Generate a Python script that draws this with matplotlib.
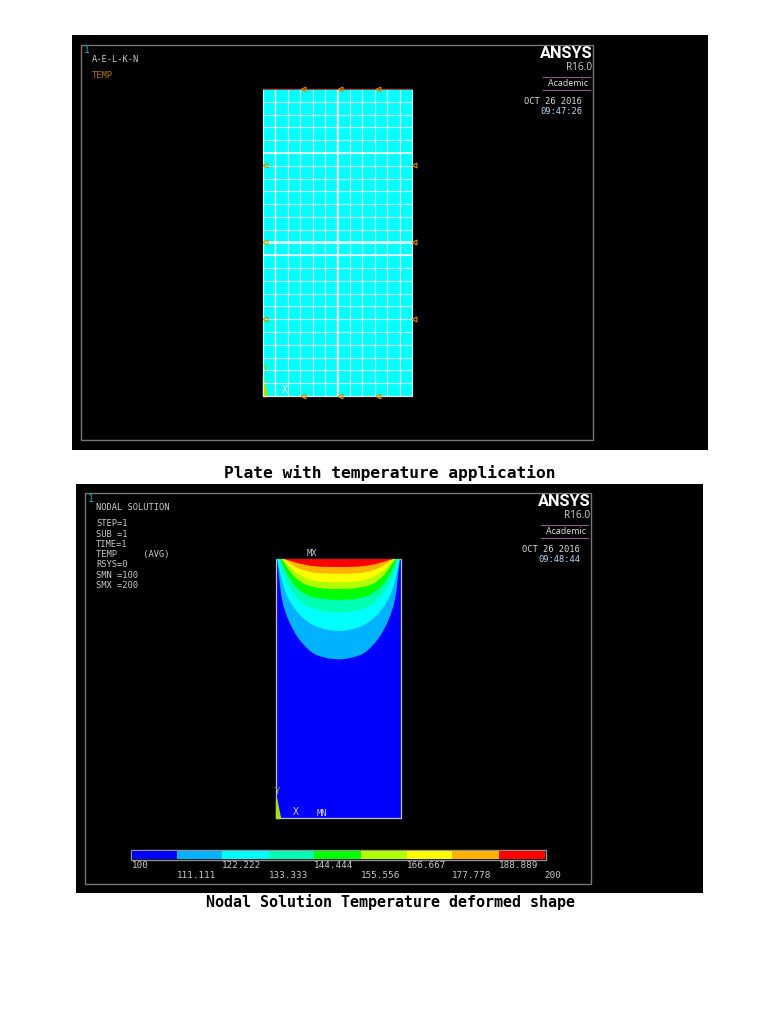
import numpy as np
import matplotlib
matplotlib.use('Agg')
import matplotlib.pyplot as plt
from matplotlib.patches import Rectangle, PathPatch
from matplotlib.path import Path

# colour bands, low to high
band_colors = ['#0000ff', '#00b2ff', '#00ffff', '#00ffb2', '#00ff00',
               '#b2ff00', '#ffff00', '#ffb200', '#ff0000']
bar_edges = [131.5, 176.7, 221.7, 269, 314.3, 360.7, 406.7, 452.3, 499, 544.5]
low_labels = ['100', '122.222', '144.444', '166.667', '188.889']
high_labels = ['111.111', '133.333', '155.556', '177.778', '200']

# contour edges, half width from plate centre vs depth below the top edge (px)
edge_offsets = [
    [62, 60.7, 56.7, 50, 40, 26.7, 13, 0],
    [61, 58.3, 51.7, 40, 23.3, 0],
    [59, 56.7, 48.3, 36.7, 23.3, 0],
    [58, 55, 46.7, 36.7, 23.3, 0],
    [57, 54, 45, 33.3, 16.7, 0],
    [56, 53.3, 43.3, 30, 16.7, 0],
    [55, 53.3, 40, 23.3, 0],
    [55, 51.7, 40, 23.3, 0],
]
edge_depths = [
    [0, 6, 39.3, 61, 79.3, 93.3, 98.7, 100.3],
    [0, 14.3, 36, 54.3, 67, 72],
    [0, 11, 29.3, 43.3, 50.3, 53.7],
    [0, 7.7, 22.7, 32.7, 38.7, 41],
    [0, 4.3, 16.7, 25.3, 29.3, 30],
    [0, 2.7, 12.7, 20, 22.7, 23.3],
    [0, 1, 9.3, 13.7, 14.7],
    [0, 0.7, 4.3, 7.3, 8],
]

arrow_x = [303, 340, 378]
arrow_y = [165, 242, 319]
bright_rows = [153, 242, 255]
bright_cols = [275, 337]

fig = plt.figure(figsize=(7.68, 10.24), dpi=100, facecolor='white')
ax = fig.add_axes([0, 0, 1, 1])
ax.set_xlim(0, 768)
ax.set_ylim(1024, 0)
ax.axis('off')
mono = 'DejaVu Sans Mono'


def box(x0, y0, x1, y1, **kw):
    ax.add_patch(Rectangle((x0, y0), x1 - x0, y1 - y0, **kw))


def label(x, y, s, color='#c8c8c8', size=6.3):
    ax.text(x, y, s, color=color, fontsize=size, family=mono, va='center')


def logo(right, y):
    ax.text(right, y, 'ANSYS', color='white', fontsize=11.8,
            family='Roboto', weight='bold', ha='right', va='center')
    ax.text(right - 1, y + 14, 'R16.0', color='#d0d0d0', fontsize=7.2,
            family='Open Sans', ha='right', va='center')
    ax.text(right - 25, y + 31, 'Academic', color='#e0e0e0', fontsize=6.4,
            family='Open Sans', ha='center', va='center')
    ax.plot([right - 50, right - 3], [y + 24, y + 24], color='#8a5a80', lw=0.8)
    ax.plot([right - 50, right - 3], [y + 37, y + 37], color='#8a5a80', lw=0.8)


def smooth_band(xs, ys, color):
    # Catmull-Rom curve through the edge points, closed along the plate top
    pts = np.column_stack([xs, ys])
    n = len(pts)
    verts = [pts[0]]
    codes = [Path.MOVETO]
    for i in range(n - 1):
        before = pts[max(i - 1, 0)]
        after = pts[min(i + 2, n - 1)]
        verts += [pts[i] + (pts[i + 1] - before) / 6,
                  pts[i + 1] - (after - pts[i]) / 6,
                  pts[i + 1]]
        codes += [Path.CURVE4] * 3
    verts.append(pts[0])
    codes.append(Path.CLOSEPOLY)
    ax.add_patch(PathPatch(Path(verts, codes), fc=color, ec='none'))


# top panel
box(72, 35, 708, 450, fc='black', ec='none')
box(81, 45, 593, 440, fc='none', ec='#777777', lw=1)
ax.text(84, 50, '1', color='#00b0b0', fontsize=7, family=mono, va='center')
label(92, 60, 'A-E-L-K-N')
label(92, 75, 'TEMP', color='#b07800')
logo(593, 53)
label(524, 102, 'OCT 26 2016', color='#d8d8d8')
label(540, 112, '09:47:26', color='#b8d8f0')

box(263, 89, 412, 396, fc='#00ffff', ec='none')
for i in range(13):
    x = 263 + i * 149 / 12
    ax.plot([x, x], [89, 396], color='#c8ffff', lw=0.85, solid_capstyle='butt')
for i in range(25):
    y = 89 + i * 307 / 24
    ax.plot([263, 412], [y, y], color='#c8ffff', lw=0.85, solid_capstyle='butt')
for x in bright_cols:
    ax.plot([x, x], [89, 396], color='#f0ffff', lw=0.9, solid_capstyle='butt')
for y in bright_rows:
    ax.plot([263, 412], [y, y], color='white', lw=1.1, solid_capstyle='butt')
ax.plot([263, 412], [89, 89], color='#a04040', lw=0.8)
ax.plot([263, 412], [396, 396], color='#e0e0e0', lw=0.8)
ax.plot(arrow_x, [89] * 3, ls='none', marker='<', ms=3.5, mfc='none', mec='#d89000', mew=0.8)
ax.plot(arrow_x, [396] * 3, ls='none', marker='<', ms=3.5, mfc='none', mec='#d89000', mew=0.8)
ax.plot([265] * 3, arrow_y, ls='none', marker='<', ms=3.5, mfc='none', mec='#d89000', mew=0.8)
ax.plot([414] * 3, arrow_y, ls='none', marker='<', ms=3.5, mfc='none', mec='#d89000', mew=0.8)
ax.fill([263, 263, 267], [376, 396, 396], color='#a8e000')
label(263, 369, 'Y', color='#a0c000')
label(282, 390, 'X', color='white', size=7)

ax.text(390, 473, 'Plate with temperature application', color='black',
        fontsize=11.7, family=mono, weight='bold', ha='center', va='center')

# bottom panel
box(76, 484, 703, 893, fc='black', ec='none')
box(85, 493, 591, 884, fc='none', ec='#777777', lw=1)
ax.text(88, 499, '1', color='#00b0b0', fontsize=7, family=mono, va='center')
label(96, 508, 'NODAL SOLUTION')
info = ['STEP=1', 'SUB =1', 'TIME=1', 'TEMP     (AVG)', 'RSYS=0', 'SMN =100', 'SMX =200']
for i, s in enumerate(info):
    label(96, 524 + i * 10.2, s)
logo(591, 501)
label(522, 550, 'OCT 26 2016', color='#d8d8d8')
label(538, 560, '09:48:44', color='#b8d8f0')

# contour plate
left, right, top, bottom = 276, 401, 559, 818
mid = (left + right) / 2
box(left, top, right, bottom, fc=band_colors[0], ec='#c0c0c0', lw=0.9)
for color, off, dep in zip(band_colors[1:], edge_offsets, edge_depths):
    off = np.array(off)
    dep = np.array(dep)
    xs = np.concatenate([mid - off, (mid + off)[-2::-1]])
    ys = np.concatenate([top + dep, (top + dep)[-2::-1]])
    smooth_band(xs, ys, color)
ax.text(mid - 27, 554, 'MX', color='#c8c8c8', fontsize=6.3, family=mono, ha='center', va='center')
ax.fill([276, 276, 280], [798, 818, 818], color='#a8e000')
label(275, 792, 'Y', color='#a0c000')
label(293, 812, 'X', color='#d0d0ff', size=7)
label(317, 813, 'MN', color='#d0d0ff')

# colour bar
box(130.5, 849.5, 545.5, 860, fc='none', ec='#909090', lw=1)
for i, color in enumerate(band_colors):
    box(bar_edges[i], 851, bar_edges[i + 1], 859, fc=color, ec='none')
for i, s in enumerate(low_labels):
    label(bar_edges[2 * i], 865.5, s, size=6.7)
for i, s in enumerate(high_labels):
    label(bar_edges[2 * i + 1], 875.5, s, size=6.7)

ax.text(390, 902, 'Nodal Solution Temperature deformed shape', color='black',
        fontsize=10.85, family=mono, weight='bold', ha='center', va='center')

fig.savefig('out.png', dpi=100, facecolor='white')
